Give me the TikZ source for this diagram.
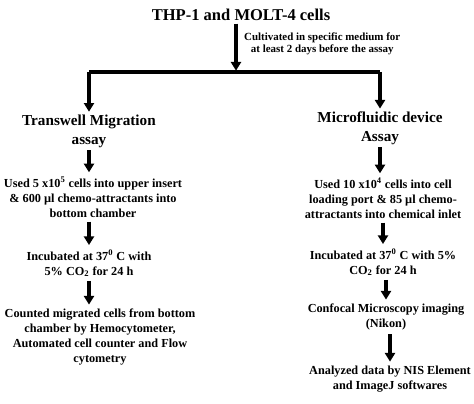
\documentclass[tikz,border=0pt]{standalone}
\usepackage{fontspec}
\setmainfont{Liberation Serif}
\usepackage{tikz}
\usetikzlibrary{positioning,calc,arrows.meta}

\begin{document}
\begin{tikzpicture}[
    x=0.75pt, y=-0.75pt,
    title/.style={font=\fontsize{12.4}{15}\selectfont\bfseries, inner sep=2pt},
    head/.style={font=\fontsize{11.4}{14.2}\selectfont\bfseries, align=center, inner sep=2pt},
    txt/.style={font=\fontsize{9.2}{11.25}\selectfont\bfseries, align=center, inner sep=3pt},
    note/.style={font=\fontsize{8.2}{9}\selectfont\bfseries, align=center, inner sep=1pt},
    arr/.style={line width=2.3pt, -{Triangle[width=7.5pt,length=6.5pt]}},
    bar/.style={line width=2.3pt}
  ]
  \useasboundingbox (0,0) rectangle (474,403);
  % top: cells -> split
  \node[title] (cells) at (241,15) {THP-1 and MOLT-4 cells};
  \coordinate (split) at (236,72);
  \draw[arr, shorten >=1pt] (cells.south -| split) -- node[note, right=4pt, pos=0.42] (cult) {Cultivated in specific medium for\\at least 2 days before the assay} (split);
  % two branches
  \node[head] (tw) at (89,131) {Transwell Migration\\assay};
  \node[head] (mf) at (380,128) {Microfluidic device\\Assay};
  \draw[bar] (split) -- (split -| tw);
  \draw[bar] (split) -- (split -| mf);
  \draw[arr] (split -| tw) -- (tw.north);
  \draw[arr] (split -| mf) -- (mf.north);
  % transwell path
  \node[txt] (useL) at (93,197) {Used 5 x10\textsuperscript{5} cells into upper insert\\\& 600 µl chemo-attractants into\\bottom chamber};
  \node[txt] (incL) at (89,263) {Incubated at 37\textsuperscript{0} C with\\5\% CO\textsubscript{2} for 24 h};
  \node[txt] (cntL) at (100,337) {Counted migrated cells from bottom\\chamber by Hemocytometer,\\Automated cell counter and Flow\\cytometry};
  \draw[arr] (tw.south) -- (tw.south |- useL.north);
  \draw[arr] (useL.south -| incL) -- (incL.north);
  \draw[arr] (incL.south) -- (incL.south |- cntL.north);
  % microfluidic path
  \node[txt] (useR) at (383,198) {Used 10 x10\textsuperscript{4} cells into cell\\loading port \& 85 µl chemo-\\attractants into chemical inlet};
  \node[txt] (incR) at (383,262) {Incubated at 37\textsuperscript{0} C with 5\%\\CO\textsubscript{2} for 24 h};
  \node[txt] (conR) at (386,317) {Confocal Microscopy imaging\\(Nikon)};
  \node[txt] (anaR) at (390,379) {Analyzed data by NIS Element\\and ImageJ softwares};
  \draw[arr] (mf.south) -- (mf.south |- useR.north);
  \draw[arr] (useR.south) -- (useR.south |- incR.north);
  \draw[arr] (incR.south -| conR) -- (conR.north);
  \draw[arr] (conR.south -| anaR) -- (anaR.north);
\end{tikzpicture}
\end{document}
